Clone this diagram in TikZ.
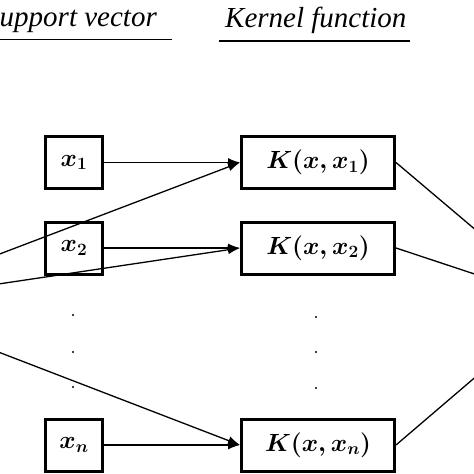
\documentclass[tikz,border=0pt]{standalone}
\usepackage{fontspec}
\setmainfont{Liberation Serif}
\usetikzlibrary{arrows.meta}
\tikzset{
  box/.style={draw=black, line width=3pt, rectangle, minimum height=52pt, inner sep=0pt, font=\fontsize{26}{30}\selectfont\boldmath},
  inbox/.style={box, minimum width=57pt},
  kbox/.style={box, minimum width=153pt},
  conn/.style={draw=black, line width=1.3pt},
  arr/.style={conn, -{Latex[length=12pt,width=9pt]}},
  head/.style={font=\fontsize{29}{34}\selectfont\itshape, inner sep=0pt},
  uline/.style={draw=black, line width=1.6pt},
  dot/.style={fill=black}
}
\begin{document}
\begin{tikzpicture}[x=1pt,y=-1pt]
\useasboundingbox (0,0) rectangle (474,474);
\clip (0,0) rectangle (474,474);
% headers
\node[head, anchor=base east] (hsv) at (157,26) {Support vector};
\node[head, anchor=base west] (hkf) at (225,27) {Kernel function};
\draw[uline] (0,39.5) -- (172,39.5);
\draw[uline] (219,41) -- (410,41);
% input boxes
\node[inbox] (x1) at (74,162.5) {$x_1$};
\node[inbox] (x2) at (74,248) {$x_2$};
\node[inbox] (xn) at (74,445) {$x_n$};
% kernel boxes
\node[kbox] (k1) at (318,162.5) {$K(x,x_1)$};
\node[kbox] (k2) at (318,248) {$K(x,x_2)$};
\node[kbox] (kn) at (318,445) {$K(x,x_n)$};
% off-frame input and output points
\coordinate (in) at (-129,303);
\coordinate (sum) at (562,303);
% arrows
\draw[arr] (x1.east) -- (k1.west);
\draw[arr] (x2.east) -- (k2.west);
\draw[arr] (xn.east) -- (kn.west);
\draw[arr] (in) -- (k1.west);
\draw[arr] (in) -- (k2.west);
\draw[arr] (in) -- (kn.west);
\draw[conn] (k1.east) -- (sum);
\draw[conn] (k2.east) -- (sum);
\draw[conn] (kn.east) -- (sum);
% dots
\foreach \y in {315,352,387} \fill[dot] (73,\y) circle (1.1pt);
\foreach \y in {317,352,388} \fill[dot] (316,\y) circle (1.1pt);
\end{tikzpicture}
\end{document}
